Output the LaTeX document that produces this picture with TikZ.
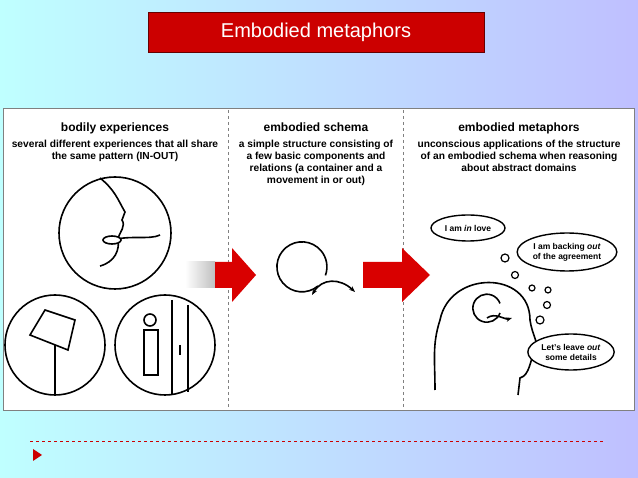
\documentclass[tikz,border=0pt]{standalone}
\usepackage{fontspec}
\setmainfont{Liberation Sans}
\usetikzlibrary{shapes.geometric,arrows.meta,shapes.callouts}
\begin{document}
\begin{tikzpicture}[x=1pt,y=-1pt,
 head/.style={font=\bfseries\fontsize{12}{14}\selectfont,anchor=north},
 body/.style={font=\bfseries\fontsize{10.2}{12}\selectfont,align=center,anchor=north,inner sep=0},
 ink/.style={draw=black,line width=1.6pt},
 bubble/.style={ellipse,draw=black,line width=1.4pt,fill=white,font=\bfseries\fontsize{8.5}{10}\selectfont,align=center,inner sep=1pt},
 bigarrow/.style={fill=red!85!black,draw=none}]
\useasboundingbox (0,0) rectangle (638,478);
\shade[left color=cyan!25!white,right color=blue!25!white] (0,0) rectangle (638,478);
% title
\node[fill=red!80!black,draw=red!40!black,minimum width=336,minimum height=40,text=white,font=\fontsize{20}{24}\selectfont] (title) at (316,32) {Embodied metaphors};
% panel
\node[fill=white,draw=gray,minimum width=631,minimum height=302,inner sep=0] (panel) at (318.5,259) {};
\draw[dashed,gray] (228,110) -- (228,408);
\draw[dashed,gray] (403,110) -- (403,408);
% headings
\node[head] (h1) at (115,119) {bodily experiences};
\node[head] (h2) at (316,119) {embodied schema};
\node[head] (h3) at (519,119) {embodied metaphors};
\node[body] (t1) at (115,140) {several different experiences that all share\\the same pattern (IN-OUT)};
\node[body] (t2) at (316,140) {a simple structure consisting of\\a few basic components and\\relations (a container and a\\movement in or out)};
\node[body] (t3) at (519,140) {unconscious applications of the structure\\of an embodied schema when reasoning\\about abstract domains};
% left illustrations
\node[circle,ink,minimum size=112] (c1) at (115,233) {};
\node[circle,ink,minimum size=100] (c2) at (55,345) {};
\node[circle,ink,minimum size=100] (c3) at (165,345) {};
% face in c1
\draw[ink] (100,178) .. controls (115,190) and (118,200) .. (125,212) -- (122,220) .. controls (126,226) and (120,232) .. (118,238) .. controls (120,250) and (115,262) .. (100,266);
\draw[ink] (113,240) .. controls (130,235) and (150,240) .. (160,235);
\draw[ink,fill=white] (112,240) ellipse (9 and 4);
% carton in c2
\draw[ink,fill=white] (30,335) -- (45,310) -- (75,320) -- (68,350) -- cycle;
\draw[ink] (55,345) -- (55,395);
% door/person c3
\draw[ink] (172,300) -- (172,395) (188,305) -- (188,392);
\draw[ink] (150,320) circle (6);
\draw[ink] (144,330) rectangle (158,375);
\draw[ink] (180,345) -- (180,355);
% arrows
\shade[left color=gray!0,right color=gray!50] (185,262) rectangle (215,288);
\fill[bigarrow] (215,262) -- (232,262) -- (232,248) -- (256,275) -- (232,302) -- (232,288) -- (215,288) -- cycle;
\fill[bigarrow] (363,262) -- (402,262) -- (402,248) -- (430,275) -- (402,302) -- (402,288) -- (363,288) -- cycle;
% schema
\draw[ink] (318,286) arc (50:380:25);
\draw[ink,{Stealth[length=6pt]}-{Stealth[length=6pt]}] (312,295) .. controls (322,278) and (340,278) .. (355,292);
% head
\draw[ink] (435,390) .. controls (435,360) and (432,345) .. (440,320) .. controls (450,270) and (530,270) .. (530,320) .. controls (532,335) and (540,345) .. (535,350) .. controls (530,360) and (530,375) .. (520,378) -- (518,395);
\draw[ink] (500,313) arc (20:340:14);
\draw[ink,-{Stealth[length=6pt]}] (487,318) .. controls (495,312) and (505,320) .. (512,318);
% thought bubbles
\node[bubble,minimum width=74,minimum height=26] (b1) at (468,228) {I am \textit{in} love};
\node[bubble,minimum width=96,minimum height=38] (b2) at (567,252) {I am backing \textit{out}\\of the agreement};
\node[bubble,minimum width=84,minimum height=36] (b3) at (571,352) {Let's leave \textit{out}\\some details};
\foreach \px/\py/\pr in {505/258/4, 515/275/3.5, 532/288/3, 548/290/3, 547/305/3.5, 540/320/4}
  \draw[line width=1.2pt] (\px,\py) circle [radius=\pr];
% bottom line
\draw[red!80!black,dashed] (30,441) -- (605,441);
\fill[red!80!black] (33,449) -- (42,455) -- (33,461) -- cycle;
\end{tikzpicture}
\end{document}
